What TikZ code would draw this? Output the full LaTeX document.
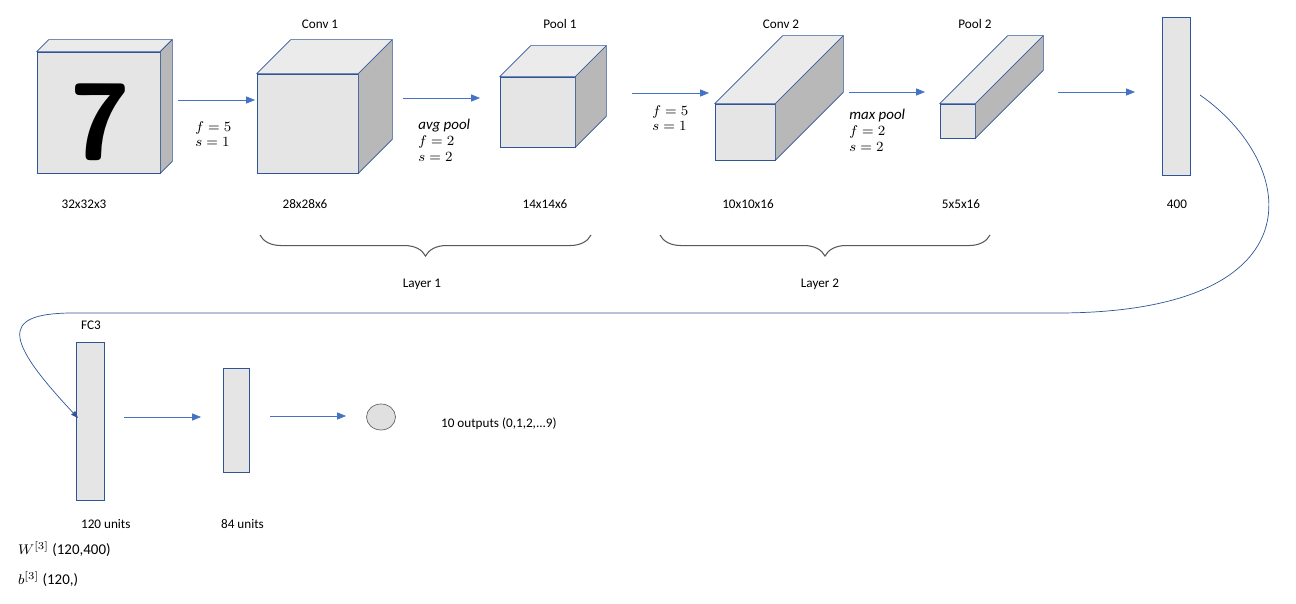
\documentclass[tikz,border=0pt]{standalone}
\usepackage{fontspec}
\setmainfont{Carlito}
\usepackage{amsmath}
\usetikzlibrary{calc, positioning, arrows.meta, decorations.pathreplacing, shapes.geometric}
\definecolor{edge_blue}{HTML}{2F5597}
\definecolor{arrow_blue}{HTML}{4472C4}
\newcommand{\px}{0.02cm}
\tikzset{
    front_face/.style={rectangle, draw=edge_blue, fill=black!10, inner sep=0pt, thin},
    top_face/.style={draw=edge_blue, fill=black!8, thin, line join=round},
    side_face/.style={draw=edge_blue, fill=black!28, thin, line join=round},
    arrow/.style={arrow_blue, thin, -{Triangle[length=5pt, width=4pt]}},
    curve_arrow/.style={edge_blue, thin, -{Triangle[length=4pt, width=3pt]}},
    brace/.style={black!65, semithick, decorate, decoration={brace, mirror, amplitude=12pt, aspect=0.5}},
    label_text/.style={font=\fontsize{7.5}{9}\selectfont, inner sep=1pt},
    param_text/.style={font=\fontsize{8.5}{9}\selectfont, align=left, inner sep=0pt, anchor=north west},
}
% front face plus top and side faces of a box
\newcommand{\volume}[6]{%
    \node (#1) [front_face, minimum width=#4*\px, minimum height=#5*\px] at (#2,#3) {};
    \draw [top_face] (#1.north west) -- ++(#6,-#6) -- ($(#1.north east)+(#6*\px,#6*\px)$) -- (#1.north east) -- cycle;
    \draw [side_face] (#1.north east) -- ++(#6,-#6) -- ($(#1.south east)+(#6*\px,#6*\px)$) -- (#1.south east) -- cycle;
}
\begin{document}
\begin{tikzpicture}[x=0.02cm, y=-0.02cm]
    \useasboundingbox (0,0) rectangle (1296,604);

    % layer 1 and 2 volumes
    \volume{input}{98.5}{112.5}{123}{121}{12}
    \volume{conv_a}{307.5}{123.5}{101}{99}{34}
    \volume{pool_a}{537.5}{112}{75}{70}{31}
    \volume{conv_b}{745}{132}{60}{56}{68}
    \volume{pool_b}{957.5}{121}{35}{34}{68}
    \node (seven) at (100,122) [font=\sffamily\bfseries\fontsize{62}{62}\selectfont] {7};

    % fully connected
    \node (flat) [front_face, minimum width=28*\px, minimum height=158*\px] at (1176,96) {};
    \node (fc_a) [front_face, minimum width=28*\px, minimum height=158*\px] at (90,421) {};
    \node (fc_b) [front_face, minimum width=26*\px, minimum height=104*\px] at (236,420) {};
    \node (out) [draw=black!60, fill=black!12, ellipse, minimum width=29*\px, minimum height=26*\px, inner sep=0pt] at (381,417) {};

    % titles and sizes
    \node (t_conv_a) [label_text] at (320,24) {Conv 1};
    \node (t_pool_a) [label_text] at (560,24) {Pool 1};
    \node (t_conv_b) [label_text] at (781,24) {Conv 2};
    \node (t_pool_b) [label_text] at (975,24) {Pool 2};
    \node (t_fc) [label_text] at (91,325) {FC3};
    \node (s_input) [label_text] at (84,204) {32x32x3};
    \node (s_conv_a) [label_text] at (305,204) {28x28x6};
    \node (s_pool_a) [label_text] at (545,204) {14x14x6};
    \node (s_conv_b) [label_text] at (748,204) {10x10x16};
    \node (s_pool_b) [label_text] at (961,204) {5x5x16};
    \node (s_flat) [label_text] at (1177,204) {400};
    \node (s_fc_a) [label_text, anchor=west] at (79,524) {120 units};
    \node (s_fc_b) [label_text, anchor=west] at (219,524) {84 units};
    \node (s_out) [label_text, anchor=west] at (439,424) {10 outputs (0,1,2,...9)};
    \node (w_fc) [label_text, anchor=west] at (16,549) {\fontsize{8.5}{9}\selectfont$W^{[3]}$ (120,400)};
    \node (b_fc) [label_text, anchor=west] at (16,579) {\fontsize{8.5}{9}\selectfont$b^{[3]}$ (120,)};

    % filter parameters
    \node (p_a) [param_text] at (195,121) {$f=5$\\$s=1$};
    \node (p_b) [param_text] at (418,119) {$\mathit{avg\ pool}$\\$f=2$\\$s=2$};
    \node (p_c) [param_text] at (652,105) {$f=5$\\$s=1$};
    \node (p_d) [param_text] at (849,109) {$\mathit{max\ pool}$\\$f=2$\\$s=2$};

    % arrows
    \coordinate (a_1) at (178,100); \coordinate (a_2) at (255,100);
    \coordinate (b_1) at (403,98);  \coordinate (b_2) at (480,98);
    \coordinate (c_1) at (632,93);  \coordinate (c_2) at (709,93);
    \coordinate (d_1) at (849,92);  \coordinate (d_2) at (925,92);
    \coordinate (e_1) at (1058,92); \coordinate (e_2) at (1135,92);
    \coordinate (f_1) at (124,417); \coordinate (f_2) at (201,417);
    \coordinate (g_1) at (270,416); \coordinate (g_2) at (346,416);
    \draw [arrow] (a_1) -- (a_2);
    \draw [arrow] (b_1) -- (b_2);
    \draw [arrow] (c_1) -- (c_2);
    \draw [arrow] (d_1) -- (d_2);
    \draw [arrow] (e_1) -- (e_2);
    \draw [arrow] (f_1) -- (f_2);
    \draw [arrow] (g_1) -- (g_2);

    % wrap around
    \coordinate (w_1) at (1200,95);
    \coordinate (w_2) at (78,418);
    \draw [curve_arrow] (w_1) .. controls (1300,165) and (1320,312) .. (1060,313)
        -- (70,313) .. controls (0,314) and (5,340) .. (w_2);

    % braces
    \coordinate (l_a1) at (260,235); \coordinate (l_a2) at (591,235);
    \coordinate (l_b1) at (660,235); \coordinate (l_b2) at (990,235);
    \draw [brace] (l_a1) -- (l_a2);
    \draw [brace] (l_b1) -- (l_b2);
    \node (layer_a) [label_text] at (422,284) {Layer 1};
    \node (layer_b) [label_text] at (820,284) {Layer 2};
\end{tikzpicture}
\end{document}
